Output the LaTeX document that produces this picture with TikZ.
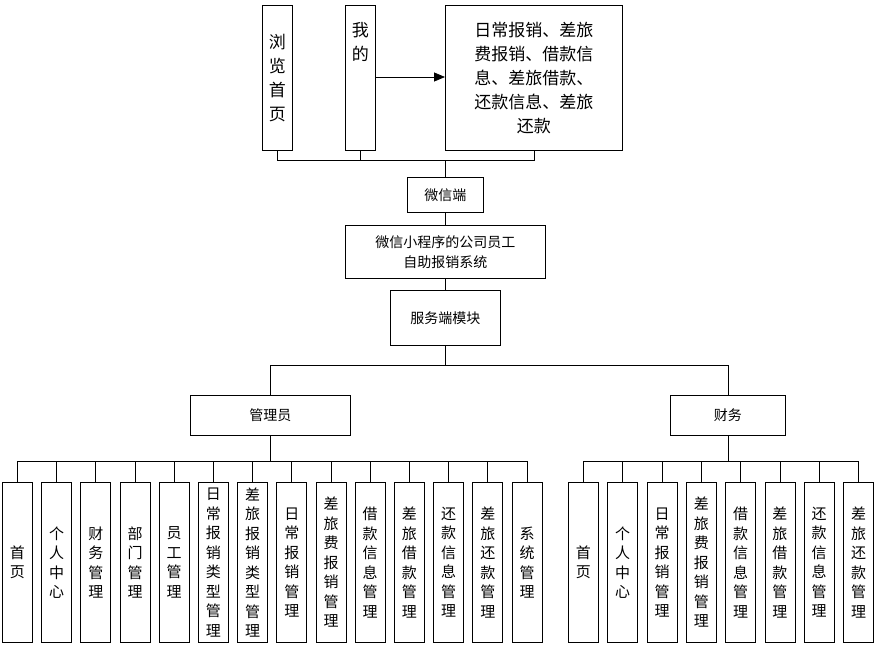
\documentclass[tikz,border=0pt]{standalone}
\usepackage{fontspec}
\setmainfont{Noto Sans CJK SC}
\usetikzlibrary{arrows.meta}
\tikzset{
 bx/.style={draw,line width=0.8pt,fill=white,anchor=north west,inner sep=0pt,align=center},
 vb/.style={bx,minimum width=30pt,minimum height=160pt,font=\fontsize{15}{19.5}\selectfont},
 mb/.style={bx,font=\fontsize{14}{20}\selectfont},
 ln/.style={line width=0.8pt}
}
\begin{document}
\begin{tikzpicture}[x=1pt,y=-1pt]
\useasboundingbox (0,0) rectangle (880,654);
% top
\node[bx,minimum width=30pt,minimum height=145pt,font=\fontsize{17}{24}\selectfont] (a) at (262,5) {浏\\览\\首\\页};
\node[bx,minimum width=30pt,minimum height=145pt,font=\fontsize{17}{24}\selectfont,anchor=north west] (b) at (345,5) {我\\的\\[48pt]};
\node[bx,minimum width=177pt,minimum height=145pt,font=\fontsize{17}{24}\selectfont] (c) at (445,5) {日常报销、差旅\\费报销、借款信\\息、差旅借款、\\还款信息、差旅\\还款};
\coordinate (arS) at (375,77);
\coordinate (arE) at (445,77);
\draw[ln,-{Triangle[length=11pt,width=9pt]}] (arS) -- (arE);
\node[mb,minimum width=76pt,minimum height=35pt] (d) at (407,177) {微信端};
\node[mb,minimum width=200pt,minimum height=53pt] (e) at (345,225) {微信小程序的公司员工\\自助报销系统};
\node[mb,minimum width=110pt,minimum height=55pt] (f) at (390,290) {服务端模块};
\node[mb,minimum width=160pt,minimum height=40pt] (g) at (190,395) {管理员};
\node[mb,minimum width=115pt,minimum height=40pt] (h) at (670,395) {财务};
\draw[ln] (a.south) |- (c.south |- 0,160) -- (c.south);
\draw[ln] (b.south) -- (b.south |- 0,160);
\draw[ln] (d.north) -- (d.north |- 0,160);
\draw[ln] (d) -- (e);
\draw[ln] (e) -- (f);
\draw[ln] (f.south) -- (f.south |- 0,365) -| (g.north);
\draw[ln] (f.south |- 0,365) -| (h.north);
% left boxes
\foreach \t [count=\i from 0] in {首\\页,个\\人\\中\\心,财\\务\\管\\理,部\\门\\管\\理,员\\工\\管\\理,日\\常\\报\\销\\类\\型\\管\\理,差\\旅\\报\\销\\类\\型\\管\\理,日\\常\\报\\销\\管\\理,差\\旅\\费\\报\\销\\管\\理,借\\款\\信\\息\\管\\理,差\\旅\\借\\款\\管\\理,还\\款\\信\\息\\管\\理,差\\旅\\还\\款\\管\\理,系\\统\\管\\理}{
  \node[vb] (L\i) at ({2+39.2*\i},482) {\t};
}
\draw[ln] (L0.north |- 0,461) -- (L13.north |- 0,461);
\draw[ln] (g.south) -- (g.south |- 0,461);
\foreach \i in {0,...,13}{\draw[ln] (L\i.north) -- (L\i.north |- 0,461);}
% right boxes
\foreach \t [count=\i from 0] in {首\\页,个\\人\\中\\心,日\\常\\报\\销\\管\\理,差\\旅\\费\\报\\销\\管\\理,借\\款\\信\\息\\管\\理,差\\旅\\借\\款\\管\\理,还\\款\\信\\息\\管\\理,差\\旅\\还\\款\\管\\理}{
  \node[vb] (R\i) at ({568+39.3*\i},482) {\t};
}
\draw[ln] (R0.north |- 0,461) -- (R7.north |- 0,461);
\draw[ln] (h.south) -- (h.south |- 0,461);
\foreach \i in {0,...,7}{\draw[ln] (R\i.north) -- (R\i.north |- 0,461);}
\end{tikzpicture}
\end{document}
